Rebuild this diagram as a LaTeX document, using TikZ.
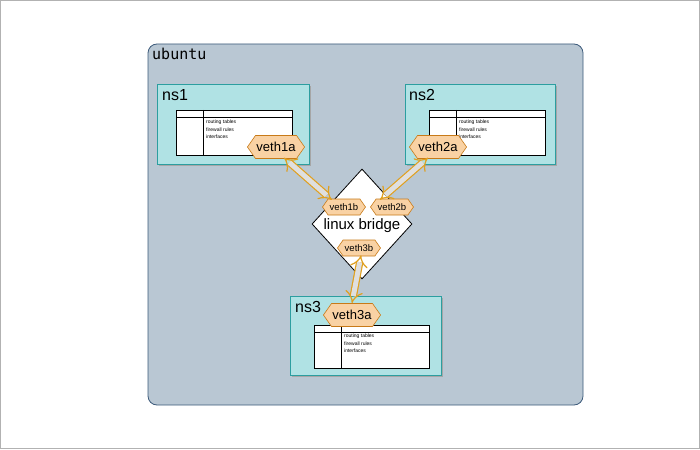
\documentclass[tikz,border=0pt]{standalone}
\usepackage{fontspec}
\setmainfont{Liberation Sans}
\newfontfamily\monof{DejaVu Sans Mono}
\usetikzlibrary{shapes.geometric,shapes.symbols,arrows.meta,shadows}
\definecolor{ubfill}{HTML}{B9C7D3}
\definecolor{ubline}{HTML}{3C5A7A}
\definecolor{nsfill}{HTML}{B0E2E4}
\definecolor{nsline}{HTML}{2C9EA0}
\definecolor{vfill}{HTML}{F9D2A4}
\definecolor{vline}{HTML}{C87A18}
\definecolor{arr}{HTML}{E0A020}
\tikzset{
 ns/.style={draw=nsline,fill=nsfill,line width=0.8pt,drop shadow={shadow xshift=2pt,shadow yshift=-2pt,fill=gray!70,opacity=1}},
 tbl/.style={draw=black,fill=white,line width=0.8pt},
 veth/.style={signal,signal to=east and west,signal pointer angle=110,draw=vline,fill=vfill,line width=0.6pt,inner xsep=1pt,inner ysep=0pt,minimum height=23pt,minimum width=53pt,font=\fontsize{13}{13}\selectfont},
 vsm/.style={veth,font=\fontsize{9.5}{9.5}\selectfont,minimum height=16pt,minimum width=43pt},
 lnk/.style={draw=arr,line width=1.2pt,double=gray!25,double distance=5pt,{Implies}-{Implies}},
 tiny/.style={font=\fontsize{5}{7.5}\selectfont,anchor=north west,align=left,inner sep=0pt},
 lab/.style={font=\fontsize{16}{16}\selectfont,anchor=north west,inner sep=0pt}
}
\begin{document}
\begin{tikzpicture}[x=1pt,y=-1pt]
\useasboundingbox (0,0) rectangle (700,449);
\draw[gray!60,line width=0.6pt] (0.5,0.5) rectangle (699.5,448.5);
\draw[draw=ubline,fill=ubfill,rounded corners=9pt,line width=0.8pt] (148,44) rectangle (583,405);
\node[lab,font=\monof\fontsize{15}{15}\selectfont] (ub) at (152,48) {ubuntu};
% ns1
\draw[ns] (157,84) rectangle (309,164);
\node[lab] (n1) at (162,89) {ns1};
\draw[tbl] (176,110) rectangle (292,155);
\draw[line width=0.8pt] (176,117) -- (292,117) (203,110) -- (203,155);
\node[tiny] (t1) at (206,120) {routing tables\\firewall rules\\interfaces};
\node[veth] (v1a) at (276,147) {veth1a};
% ns2
\draw[ns] (405,84) rectangle (555,164);
\node[lab] (n2) at (409,89) {ns2};
\draw[tbl] (429,110) rectangle (545,155);
\draw[line width=0.8pt] (429,117) -- (545,117) (456,110) -- (456,155);
\node[tiny] (t2) at (459,120) {routing tables\\firewall rules\\interfaces};
\node[veth] (v2a) at (438,147) {veth2a};
% ns3
\draw[ns] (290,296) rectangle (441,375);
\node[lab] (n3) at (295,301) {ns3};
\draw[tbl] (314,325) rectangle (429,368);
\draw[line width=0.8pt] (314,332) -- (429,332) (341,325) -- (341,368);
\node[tiny] (t3) at (344,334) {routing tables\\firewall rules\\interfaces};
% bridge
\node[diamond,draw=black,fill=white,line width=0.8pt,minimum width=100pt,minimum height=110pt,inner sep=0pt,aspect=0.9] (br) at (362,224) {};
\node[font=\fontsize{15}{15}\selectfont] (bl) at (362,226) {linux bridge};
\node[vsm] (v1b) at (344,207) {veth1b};
\node[vsm] (v2b) at (392,207) {veth2b};
\node[vsm] (v3b) at (359,248) {veth3b};
% links
\draw[lnk] ([xshift=8pt,yshift=1pt]v1a.south) coordinate (c1) -- ([xshift=4pt,yshift=-1pt]v1b.north west);
\draw[lnk] ([xshift=-10pt,yshift=1pt]v2a.south) coordinate (c2) -- ([xshift=-12pt,yshift=-1pt]v2b.north);
\draw[lnk] ([xshift=2pt,yshift=1pt]v3b.south) coordinate (c3) -- (352,303);
\node[veth] (v3a) at (352,315) {veth3a};
\end{tikzpicture}
\end{document}
